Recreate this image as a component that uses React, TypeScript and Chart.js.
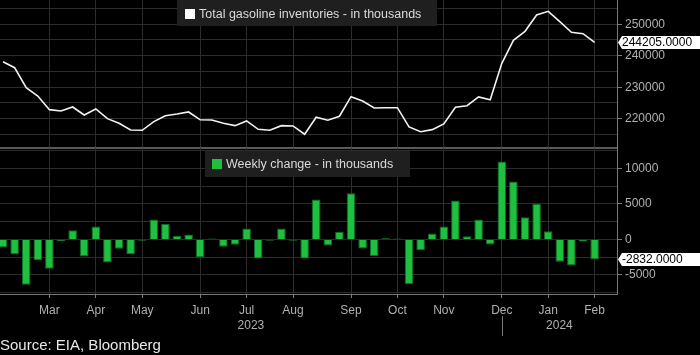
import React, { useEffect, useRef } from 'react';
import { Chart, registerables } from 'chart.js';

Chart.register(...registerables);

// ---- Data ----
// Weekly observations (index 0 = first week shown, index 51 = latest week)
const inventoryValues = [
  238100, 236190, 229840, 227200, 222860, 222450, 223710, 221170, 223080, 220000,
  218540, 216410, 216310, 219050, 220950, 221490, 222130, 219640, 219590, 218540,
  217780, 219270, 216630, 216310, 217780, 217680, 215050, 220440, 219490, 220760,
  226990, 225620, 223400, 223490, 223490, 217360, 215870, 216510, 218320, 223620,
  224130, 226890, 226030, 237590, 244890, 247750, 252920, 254100, 250800, 247430,
  246990, 244205,
];

const weeklyChange = [
  -1137, -2080, -6390, -2920, -4140, -250, 1290, -2400, 1810, -3250,
  -1330, -2080, -200, 2790, 2180, 490, 690, -2540, 130, -1050,
  -770, 1530, -2690, -200, 1530, -200, -2690, 5600, -860, 1050,
  6490, -1280, -2320, 170, 130, -6290, -1520, 830, 1810, 5460,
  450, 2790, -720, 10940, 8130, 3120, 4990, 1150, -3160, -3670,
  -300, -2832,
];

const monthTickIdx = [4, 8, 12, 17, 21, 25, 30, 34, 38, 43, 47, 51];
const monthTickLabels = ['Mar', 'Apr', 'May', 'Jun', 'Jul', 'Aug', 'Sep', 'Oct', 'Nov', 'Dec', 'Jan', 'Feb'];
const yearLabels = ['2023', '2024'];
const yearBoundaryIdx = 43;

const topGridValues = [215000, 220000, 225000, 230000, 235000, 240000, 245000, 250000, 255000];
const topLabelValues = [220000, 230000, 240000, 250000];
const bottomGridValues = [-7500, -5000, -2500, 0, 2500, 5000, 7500, 10000, 12500];
const bottomLabelValues = [-5000, 0, 5000, 10000];

const topLegendText = 'Total gasoline inventories - in thousands';
const bottomLegendText = 'Weekly change - in thousands';
const sourceText = 'Source: EIA, Bloomberg';

// ---- Styling ----
const FONT = '"Liberation Sans", Arial, Helvetica, sans-serif';
const GRID = '#2c2c2c';
const AXIS = '#7a7a7a';
const TICK_TEXT = '#b0b0b0';
const GREEN = '#1fbf40';
const GREEN_BORDER = '#0f6e24';
const X_MIN = -0.26;
const X_MAX = 52.93;
const AXIS_W = 83;

function xScaleOptions(showLabels: boolean) {
  return {
    type: 'linear',
    min: X_MIN,
    max: X_MAX,
    offset: false,
    afterBuildTicks: (s: any) => {
      s.ticks = monthTickIdx.map((v) => ({ value: v }));
    },
    afterFit: (s: any) => {
      s.height = showLabels ? 61 : 1;
      s.paddingLeft = 0;
      s.paddingRight = 0;
    },
    grid: {
      offset: false,
      color: GRID,
      lineWidth: 1,
      drawTicks: showLabels,
      tickLength: 4,
      tickColor: AXIS,
    },
    border: { display: showLabels, color: AXIS },
    ticks: {
      display: showLabels,
      autoSkip: false,
      maxRotation: 0,
      padding: 5,
      color: TICK_TEXT,
      font: { family: FONT, size: 12 },
      callback: (v: any) => {
        const k = monthTickIdx.indexOf(v);
        return k >= 0 ? monthTickLabels[k] : '';
      },
    },
  };
}

function yScaleOptions(min: number, max: number, grid: number[], labels: number[]) {
  return {
    position: 'right',
    min,
    max,
    afterBuildTicks: (s: any) => {
      s.ticks = grid.map((v) => ({ value: v }));
    },
    afterFit: (s: any) => {
      s.width = AXIS_W;
      s.paddingTop = 0;
      s.paddingBottom = 0;
    },
    grid: {
      color: GRID,
      lineWidth: 1,
      tickLength: 5,
      tickColor: (ctx: any) => (ctx.tick && labels.includes(ctx.tick.value) ? AXIS : 'rgba(0,0,0,0)'),
    },
    border: { display: true, color: AXIS },
    ticks: {
      autoSkip: false,
      color: TICK_TEXT,
      padding: 3,
      font: { family: FONT, size: 12 },
      callback: (v: any) => (labels.includes(v) ? String(v) : ''),
    },
  };
}

function drawTag(chart: any, value: number) {
  const ctx = chart.ctx;
  const y = chart.scales.y.getPixelForValue(value);
  const x0 = chart.chartArea.right + 1;
  const h = 13;
  ctx.save();
  ctx.fillStyle = '#ffffff';
  ctx.beginPath();
  ctx.moveTo(x0, y);
  ctx.lineTo(x0 + 4, y - h / 2);
  ctx.lineTo(chart.width, y - h / 2);
  ctx.lineTo(chart.width, y + h / 2);
  ctx.lineTo(x0 + 4, y + h / 2);
  ctx.closePath();
  ctx.fill();
  ctx.fillStyle = '#000000';
  ctx.font = `12px ${FONT}`;
  ctx.textBaseline = 'middle';
  ctx.textAlign = 'left';
  ctx.fillText(value.toFixed(4), x0 + 4, y + 0.5);
  ctx.restore();
}

function drawLegend(chart: any, box: number[], sq: number[], color: string, text: string) {
  const ctx = chart.ctx;
  ctx.save();
  ctx.fillStyle = '#1f1f1f';
  ctx.fillRect(box[0], box[1], box[2], box[3]);
  ctx.fillStyle = color;
  ctx.fillRect(sq[0], sq[1], sq[2], sq[3]);
  ctx.fillStyle = '#d9d9d9';
  ctx.font = `12.5px ${FONT}`;
  ctx.textBaseline = 'middle';
  ctx.textAlign = 'left';
  ctx.fillText(text, sq[0] + sq[2] + 4, sq[1] + sq[3] / 2 + 0.5);
  ctx.restore();
}

export default function App() {
  const topRef = useRef<HTMLCanvasElement>(null);
  const botRef = useRef<HTMLCanvasElement>(null);

  useEffect(() => {
    const topPlugin = {
      id: 'topDecor',
      afterDraw: (chart: any) => {
        drawLegend(chart, [177, 0, 260, 26], [185, 9, 10, 10], '#ffffff', topLegendText);
        drawTag(chart, inventoryValues[inventoryValues.length - 1]);
      },
    };
    const botPlugin = {
      id: 'botDecor',
      afterDraw: (chart: any) => {
        drawLegend(chart, [205, 3, 205, 26], [212, 11, 10, 10], GREEN, bottomLegendText);
        drawTag(chart, weeklyChange[weeklyChange.length - 1]);
        const ctx = chart.ctx;
        const xs = chart.scales.x;
        const left = chart.chartArea.left;
        const right = chart.chartArea.right;
        const sep = xs.getPixelForValue(yearBoundaryIdx);
        ctx.save();
        ctx.strokeStyle = AXIS;
        ctx.lineWidth = 1;
        ctx.beginPath();
        ctx.moveTo(Math.round(sep) + 0.5, 168);
        ctx.lineTo(Math.round(sep) + 0.5, 188);
        ctx.stroke();
        ctx.fillStyle = TICK_TEXT;
        ctx.font = `12px ${FONT}`;
        ctx.textAlign = 'center';
        ctx.textBaseline = 'middle';
        ctx.fillText(yearLabels[0], (left + sep) / 2, 178);
        ctx.fillText(yearLabels[1], (sep + right) / 2, 178);
        ctx.restore();
      },
    };

    const top = new Chart(topRef.current!, {
      type: 'line',
      data: {
        datasets: [
          {
            label: topLegendText,
            data: inventoryValues.map((v, i) => ({ x: i, y: v })),
            borderColor: '#f2f2f2',
            borderWidth: 1.6,
            pointRadius: 0,
            tension: 0,
            fill: false,
          },
        ],
      },
      options: {
        responsive: false,
        animation: false,
        layout: { padding: 0 },
        plugins: { legend: { display: false }, tooltip: { enabled: false } },
        scales: {
          x: xScaleOptions(false) as any,
          y: yScaleOptions(211000, 257700, topGridValues, topLabelValues) as any,
        },
      },
      plugins: [topPlugin],
    });

    const bot = new Chart(botRef.current!, {
      type: 'bar',
      data: {
        datasets: [
          {
            label: bottomLegendText,
            data: weeklyChange.map((v, i) => ({ x: i, y: v })),
            backgroundColor: GREEN,
            borderColor: GREEN_BORDER,
            borderWidth: 1,
            barPercentage: 0.74,
            categoryPercentage: 1,
          },
        ],
      },
      options: {
        responsive: false,
        animation: false,
        layout: { padding: 0 },
        plugins: { legend: { display: false }, tooltip: { enabled: false } },
        scales: {
          x: xScaleOptions(true) as any,
          y: yScaleOptions(-7680, 12850, bottomGridValues, bottomLabelValues) as any,
        },
      },
      plugins: [botPlugin],
    });

    return () => {
      top.destroy();
      bot.destroy();
    };
  }, []);

  return (
    <div
      style={{
        position: 'fixed',
        left: 0,
        top: 0,
        width: 700,
        height: 355,
        background: '#000',
        overflow: 'hidden',
      }}
    >
      <canvas ref={topRef} width={700} height={148} style={{ position: 'absolute', left: 0, top: 0 }} />
      <div style={{ position: 'absolute', left: 0, top: 147, width: 617, height: 1.5, background: '#5a5a5a' }} />
      <canvas ref={botRef} width={700} height={207} style={{ position: 'absolute', left: 0, top: 148 }} />
      <div
        style={{
          position: 'absolute',
          left: 0,
          top: 336,
          fontFamily: FONT,
          fontSize: 15,
          lineHeight: '18px',
          color: '#e8e8e8',
          whiteSpace: 'nowrap',
        }}
      >
        {sourceText}
      </div>
    </div>
  );
}
